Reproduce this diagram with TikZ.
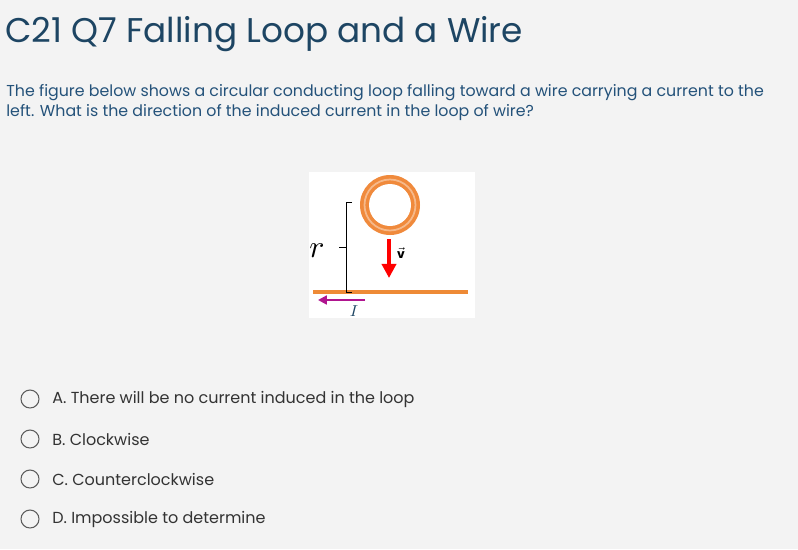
\documentclass[tikz,border=0pt]{standalone}
\usepackage{fontspec}
\setmainfont{Poppins}
\usetikzlibrary{arrows.meta}
\definecolor{bgcol}{HTML}{F3F3F3}
\definecolor{titlecol}{HTML}{1D4563}
\definecolor{bodycol}{HTML}{24527A}
\definecolor{optcol}{HTML}{333333}
\definecolor{ringcol}{HTML}{F08A3C}
\definecolor{wirecol}{HTML}{EE8A36}
\definecolor{curcol}{HTML}{B0158F}
\tikzset{
  opt/.style={anchor=west, text=optcol, font=\fontsize{9.1}{11}\selectfont, inner sep=0pt},
  radio/.style={circle, draw=optcol!80, line width=0.6pt, minimum size=0.36cm, inner sep=0pt}
}
\begin{document}
\begin{tikzpicture}[x=0.02cm, y=-0.02cm]
  \fill[bgcol] (0,0) rectangle (798,549);
  \useasboundingbox (0,0) rectangle (798,549);
  \node[anchor=west, text=titlecol, inner sep=0pt, font=\fontsize{19.5}{22}\selectfont] (title) at (5,34) {C21 Q7 Falling Loop and a Wire};
  \node[anchor=north west, text=bodycol, inner sep=0pt, align=left, font=\fontsize{9}{11.4}\selectfont] (intro) at (6,84)
    {The figure below shows a circular conducting loop falling toward a wire carrying a current to the\\left. What is the direction of the induced current in the loop of wire?};
  % figure
  \fill[white] (309,172) rectangle (475,318);
  \fill[ringcol] (390,205) circle[radius=30*0.02cm];
  \fill[white] (390,205) circle[radius=21*0.02cm];
  \draw[ringcol!60!white, line width=1pt] (390,205) circle[radius=25.5*0.02cm];
  \fill[wirecol] (313,290) rectangle (468,294);
  \draw[black, line width=0.4pt] (352,202) -- (346,202) -- (346,292) -- (352,292);
  \draw[black, line width=0.4pt] (346,247) -- (339,247);
  \node[inner sep=0pt] (r) at (317,251) {\scalebox{1.8}{$r$}};
  \draw[red, line width=2.2pt, -{Triangle[length=8pt,width=8pt]}] (389,239) -- (389,278);
  \node[font=\scriptsize, inner sep=0pt] (v) at (401,253) {$\vec{\mathbf v}$};
  \draw[curcol, line width=1.3pt, -{Triangle[length=5pt,width=5pt]}] (365,300) -- (318,300);
  \node[text=titlecol, font=\small, inner sep=0pt] (I) at (354,311) {$I$};
  % answers
  \foreach \y/\txt [count=\i] in {399/A. There will be no current induced in the loop,
                                  439/B. Clockwise,
                                  479/C. Counterclockwise,
                                  519/D. Impossible to determine}{
    \node[radio] (rb\i) at (30,\y) {};
    \node[opt] (ans\i) at (52,\y) {\txt};
  }
\end{tikzpicture}
\end{document}
